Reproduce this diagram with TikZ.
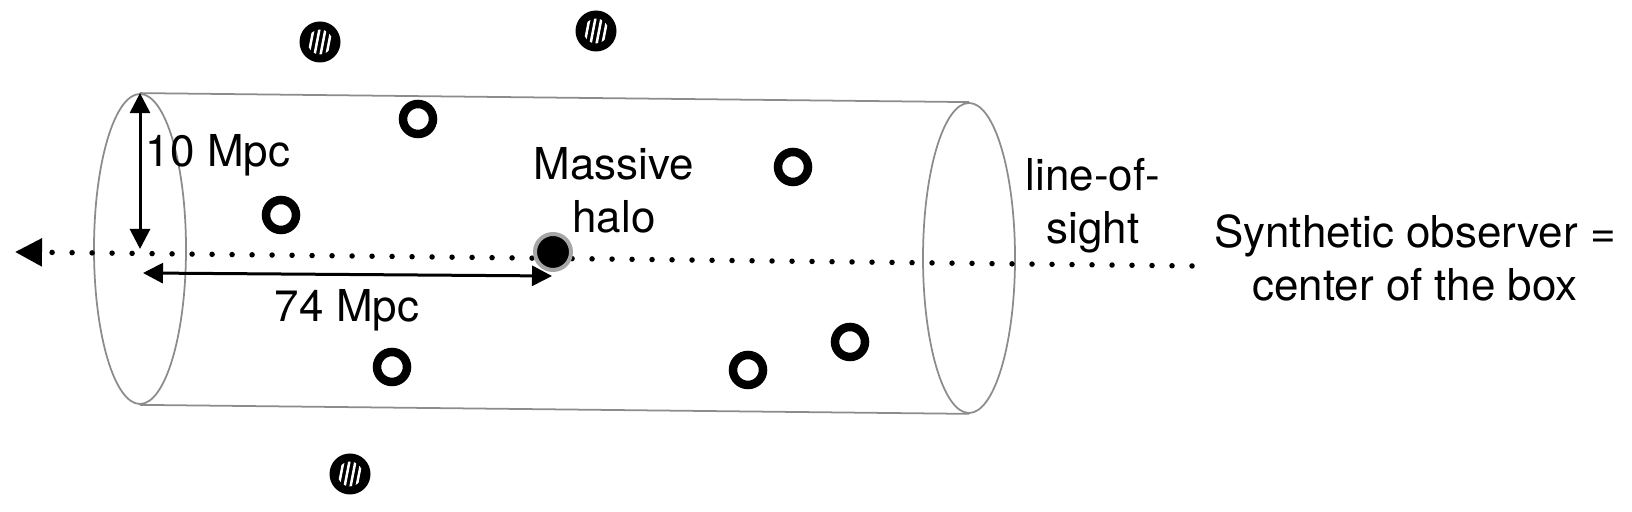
\documentclass[tikz,border=0pt]{standalone}
\usepackage{fontspec}
\setmainfont{TeX Gyre Heros}
\usetikzlibrary{arrows.meta,shapes.geometric,calc}

\tikzset{
  tubeend/.style={ellipse, draw=black!45, line width=0.5pt, minimum width=0.92cm, minimum height=3.10cm, inner sep=0pt},
  tubeside/.style={draw=black!45, line width=0.5pt},
  ringhalo/.style={circle, draw=black, line width=0.085cm, minimum size=0.30cm, inner sep=0pt},
  stripedhalo/.style={circle, fill=black, minimum size=0.41cm, inner sep=0pt,
    path picture={\clip (path picture bounding box.center) circle (0.125cm);
      \foreach \k in {-0.09,-0.03,0.03,0.09}
        \draw[white, line width=0.025cm] ($(path picture bounding box.center)+(\k-0.025,-0.13)$) -- ++(0.05,0.26);}},
  bighalo/.style={circle, fill=black, draw=black!35, line width=0.04cm, minimum size=0.36cm, inner sep=0pt},
  sight/.style={line width=0.055cm, dash pattern=on 0pt off 0.2cm, line cap=round, -{Triangle[length=0.27cm, width=0.27cm]}},
  dim/.style={line width=0.03cm, {Triangle[length=0.2cm, width=0.2cm]}-{Triangle[length=0.2cm, width=0.2cm]}},
  lbl/.style={font=\fontsize{12.5}{15}\selectfont, inner sep=0pt, align=center},
}

\begin{document}
\begin{tikzpicture}
  \useasboundingbox (0,0) rectangle (16.32,5.12);
  % the cylinder
  \node[tubeend] (capL) at (1.40, 2.63) {};
  \node[tubeend] (capR) at (9.69, 2.54) {};
  \draw[tubeside] (capL.north) -- (capR.north);
  \draw[tubeside] (capL.south) -- (capR.south);

  % line of sight
  \coordinate (losEnd) at (11.92, 2.46);
  \coordinate (losTip) at (0.15, 2.60);
  \draw[sight] (losEnd) -- (losTip);

  % haloes
  \node[bighalo] (massive) at (5.53, 2.60) {};
  \node[ringhalo] (h1) at (4.18, 3.93) {};
  \node[ringhalo] (h2) at (2.81, 2.97) {};
  \node[ringhalo] (h3) at (7.93, 3.45) {};
  \node[ringhalo] (h4) at (3.92, 1.45) {};
  \node[ringhalo] (h5) at (7.48, 1.42) {};
  \node[ringhalo] (h6) at (8.50, 1.70) {};
  \node[stripedhalo] (s1) at (3.20, 4.70) {};
  \node[stripedhalo] (s2) at (5.96, 4.81) {};
  \node[stripedhalo] (s3) at (3.50, 0.38) {};

  % sizes
  \draw[dim] (capL.north) -- (capL.center);
  \coordinate (depth0) at (1.43, 2.39);
  \coordinate (depth1) at (5.52, 2.36);
  \draw[dim] (depth0) -- (depth1);

  % labels
  \node[lbl, anchor=base] (radius) at (2.18, 3.45) {10 Mpc};
  \node[lbl, anchor=base] (depth) at (3.47, 1.90) {74 Mpc};
  \node[lbl] (massiveLbl) at (6.14, 3.22) {Massive\\halo};
  \node[lbl] (losLbl) at (10.93, 3.06) {line-of-\\sight};
  \node[lbl] (observer) at (14.15, 2.54) {Synthetic observer =\\center of the box};
\end{tikzpicture}
\end{document}
